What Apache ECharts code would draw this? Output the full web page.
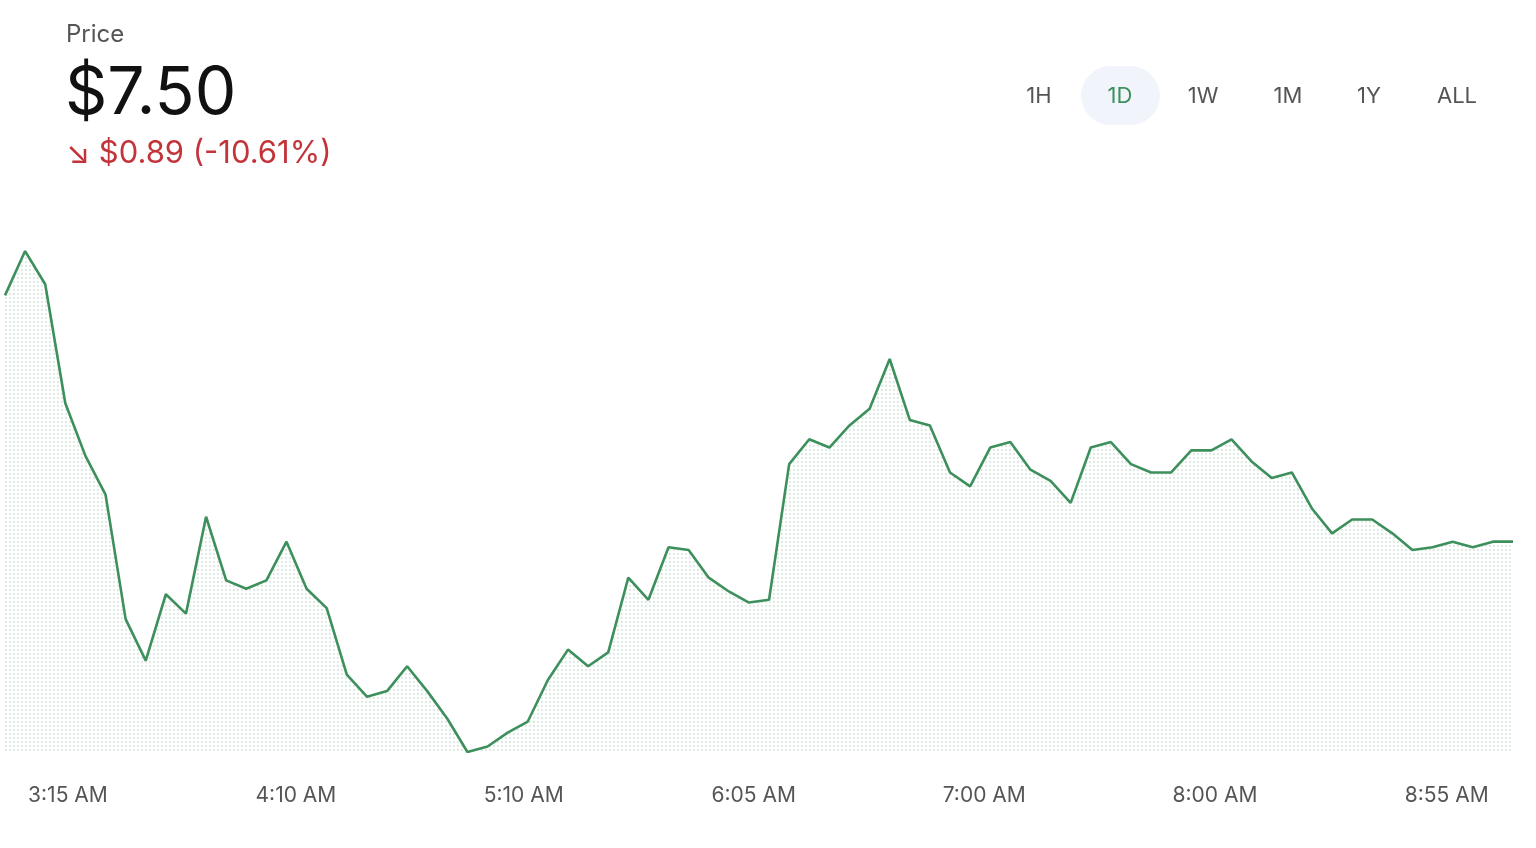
<!DOCTYPE html>
<html><head><meta charset="utf-8">
<script src="https://cdn.jsdelivr.net/npm/echarts@6/dist/echarts.min.js"></script>
<style>html,body{margin:0;padding:0;background:#fff}#c{width:1536px;height:848px}</style>
</head><body><div id="c"></div>
<script>
const prices = [8.39,8.55,8.43,8.00,7.81,7.67,7.22,7.07,7.31,7.24,7.59,7.36,7.33,7.36,7.50,7.33,7.26,7.02,6.94,6.96,7.05,6.96,6.86,6.74,6.76,6.81,6.85,7.00,7.11,7.05,7.10,7.37,7.29,7.48,7.47,7.37,7.32,7.28,7.29,7.78,7.87,7.84,7.92,7.98,8.16,7.94,7.92,7.75,7.70,7.84,7.86,7.76,7.72,7.64,7.84,7.86,7.78,7.75,7.75,7.83,7.83,7.87,7.79,7.73,7.75,7.62,7.53,7.58,7.58,7.53,7.47,7.48,7.50,7.48,7.50,7.50];
const tickLabels = ['3:15 AM','4:10 AM','5:10 AM','6:05 AM','7:00 AM','8:00 AM','8:55 AM'];
const tickPositions = [3.13,14.47,25.8,37.24,48.7,60.18,71.7];
const ranges = ['1H','1D','1W','1M','1Y','ALL'];
const rangeX = [1039,1120,1203,1288,1369,1457];

const cv = document.createElement('canvas'); cv.width = 4; cv.height = 4;
const cx = cv.getContext('2d'); cx.fillStyle = 'rgba(61,143,92,0.3)'; cx.fillRect(1,1,1.8,1.8);

const chart = echarts.init(document.getElementById('c'));
const graphics = [
  {type:'text', left:66, top:23, style:{text:'Price', fontSize:24, fill:'#555', fontFamily:'Inter'}},
  {type:'text', left:65, top:61, style:{text:'$7.50', fontSize:66, fill:'#111', fontFamily:'Inter'}},
  {type:'text', left:66, top:138, style:{text:'↘ $0.89 (-10.61%)', fontSize:31, fill:'#c3343a', fontFamily:'Inter'}},
  {type:'rect', shape:{x:1081, y:66, width:79, height:59, r:30}, style:{fill:'#f1f4fa'}}
];
ranges.forEach((r,i)=>graphics.push({type:'text', x:rangeX[i], y:96, style:{text:r, fontSize:22, fill: r==='1D'?'#3d8f5c':'#555', align:'center', verticalAlign:'middle', fontFamily:'Inter'}}));
chart.setOption({
  animation:false,
  graphic: graphics,
  grid:{left:5, right:23, top:240, bottom:96},
  xAxis:{type:'value', min:0, max:prices.length-1, axisLine:{show:false}, axisTick:{show:false}, splitLine:{show:false},
    axisLabel:{customValues:tickPositions, margin:33, fontSize:21, color:'#555', fontFamily:'Inter',
      formatter:(v)=>{const k=tickPositions.indexOf(v);return k>=0?tickLabels[k]:'';}}},
  yAxis:{type:'value', min:6.74, max:8.59, show:false},
  series:[{type:'line', data:prices.map((p,i)=>[i,p]), symbol:'none', lineStyle:{color:'#3d8f5c', width:2.6},
    areaStyle:{color:{image:cv, repeat:'repeat'}}}]
});
</script></body></html>
